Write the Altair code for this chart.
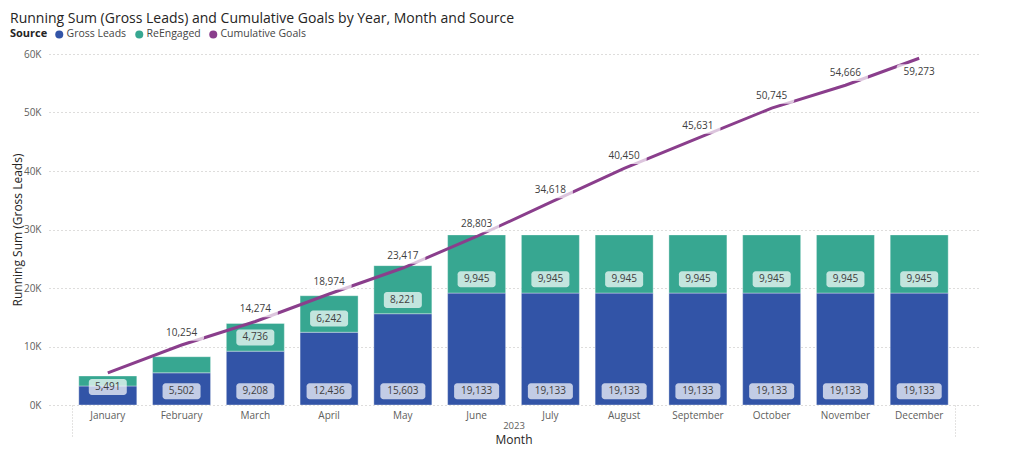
import altair as alt
import pandas as pd

# ---------------- data ----------------
months = ["January", "February", "March", "April", "May", "June", "July",
          "August", "September", "October", "November", "December"]
gross_leads = [3250, 5502, 9208, 12436, 15603, 19133, 19133, 19133, 19133, 19133, 19133, 19133]
reengaged = [1710, 2750, 4736, 6242, 8221, 9945, 9945, 9945, 9945, 9945, 9945, 9945]
cumulative_goals = [5491, 10254, 14274, 18974, 23417, 28803, 34618, 40450, 45631, 50745, 54666, 59273]
year = "2023"
sources = ["Gross Leads", "ReEngaged", "Cumulative Goals"]
colors = ["#3254A7", "#37A791", "#8A3E8C"]

# ---------------- layout constants ----------------
W, H = 929, 351
YMAX = 60000
U = YMAX / H  # data units per pixel
FONT = "Open Sans"
DARK = "#252423"
GRAY = "#605E5C"
LABEL = "#404040"

wide = pd.DataFrame({"month": months, "gross": gross_leads,
                     "reeng": reengaged, "goal": cumulative_goals})
long = pd.concat([
    pd.DataFrame({"month": months, "source": sources[0], "value": gross_leads, "order": 0}),
    pd.DataFrame({"month": months, "source": sources[1], "value": reengaged, "order": 1}),
])

x_enc = alt.X("month:N", sort=months,
              scale=alt.Scale(domain=months, paddingInner=0.2137, paddingOuter=0.404),
              axis=alt.Axis(title=None, labelAngle=0, labelFontSize=10, labelColor=GRAY,
                            labelPadding=5, ticks=False, domain=False, grid=False))
y_scale = alt.Scale(domain=[0, YMAX], nice=False, zero=True)
y_axis = alt.Axis(values=[0, 10000, 20000, 30000, 40000, 50000, 60000],
                  labelExpr="(datum.value / 1000) + 'K'",
                  title="Running Sum (Gross Leads)", titleFontSize=12,
                  titleFontWeight="normal", titleColor=DARK,
                  titleX=-32, titleY=H / 2, titleAngle=270, titleBaseline="middle",
                  titleAlign="center",
                  labelFontSize=10, labelColor=GRAY, labelPadding=8,
                  grid=True, gridDash=[1, 3], gridColor="#bdbbb9", gridWidth=1,
                  domain=False, ticks=False)


def Y(field):
    return alt.Y(field, scale=y_scale, axis=y_axis)


bars = alt.Chart(long).mark_bar(stroke="white", strokeWidth=1, strokeOpacity=0.35).encode(
    x=x_enc,
    y=alt.Y("value:Q", stack="zero", scale=y_scale, axis=y_axis),
    color=alt.Color("source:N", scale=alt.Scale(domain=sources, range=colors),
                    legend=alt.Legend(title="Source", orient="none", legendX=-39, legendY=-25,
                                      direction="horizontal", titleOrient="left",
                                      titleFontSize=11, titleFontWeight="bold", titleColor=DARK,
                                      titlePadding=6, labelFontSize=10.5, labelColor="#444444",
                                      symbolType="circle", symbolSize=64, symbolStrokeWidth=0,
                                      labelOffset=2, columnPadding=7)),
    order=alt.Order("order:Q", sort="ascending"),
)

line = alt.Chart(wide).mark_line(color=colors[2], strokeWidth=3).encode(
    x=x_enc, y=Y("goal:Q"))


def label_layers(base_expr, field, filter_expr, lo_px, hi_px):
    mid_px = (lo_px + hi_px) / 2
    src = alt.Chart(wide).transform_filter(filter_expr).transform_calculate(
        base=base_expr,
        lbl=f"format(datum.{field}, ',')",
    ).transform_calculate(
        y_lo=f"datum.base + {lo_px * U}",
        y_hi=f"datum.base + {hi_px * U}",
        y_mid=f"datum.base + {mid_px * U}",
    )
    out = []
    for n, bw in ((5, 38), (6, 45)):
        out.append(src.transform_filter(f"length(datum.lbl) == {n}").mark_bar(
            width=bw, cornerRadius=3, color="white", opacity=0.7).encode(
            x=x_enc, y=Y("y_lo:Q"), y2="y_hi:Q"))
    out.append(src.mark_text(fontSize=10, color=LABEL, baseline="middle", font=FONT).encode(
        x=x_enc, y=Y("y_mid:Q"), text="lbl:N"))
    return out


layers = [bars, line]
layers += label_layers("0", "gross", "datum.gross >= 5000", 5.7, 21.7)
layers += label_layers("datum.gross", "reeng", "datum.reeng >= 4000", 5.7, 21.7)
layers += label_layers("datum.goal", "goal",
                       "datum.month != 'January' && datum.month != 'December'", 4.3, 20.3)
layers += label_layers("datum.goal", "goal",
                       "datum.month == 'January' || datum.month == 'December'", -22.0, -6.0)

main = alt.layer(*layers)

year_df = pd.DataFrame({"year": [year]})
year_layer = alt.Chart(year_df).mark_point(opacity=0).encode(
    x=alt.X("year:N", scale=alt.Scale(paddingInner=0, paddingOuter=0.026),
            axis=alt.Axis(orient="bottom", title="Month", titleFontSize=12,
                          titleFontWeight="normal", titleColor=DARK, titleY=29,
                          titleBaseline="top", labelAngle=0, labelBaseline="top",
                          labelFontSize=9.5, labelColor=GRAY, labelPadding=-16,
                          tickBand="extent", ticks=True, tickSize=31, tickDash=[1, 2],
                          tickColor="#c8c6c4", domain=False, grid=False))
)

chart = alt.layer(main, year_layer).resolve_scale(x="independent").properties(
    width=W, height=H,
    padding={"left": 41, "top": 46, "right": 30, "bottom": 43},
    autosize=alt.AutoSizeParams(type="none"),
    title=alt.Title("Running Sum (Gross Leads) and Cumulative Goals by Year, Month and Source",
                    anchor="start", frame="group", dx=-39, offset=3, fontSize=14,
                    fontWeight="normal", color=DARK, font=FONT),
).configure(font=FONT).configure_view(stroke=None)

chart.save("out.html", embed_options={"renderer": "svg", "actions": False})
